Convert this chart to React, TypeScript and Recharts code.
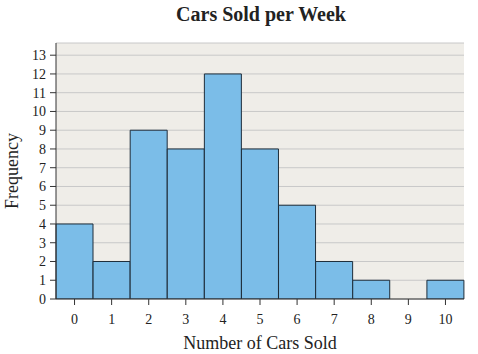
import React from 'react';
import { BarChart, Bar, XAxis, YAxis, CartesianGrid } from 'recharts';

// cars sold per week (x) and how many weeks had that count
const carsSold = ['0', '1', '2', '3', '4', '5', '6', '7', '8', '9', '10'];
const frequency = [4, 2, 9, 8, 12, 8, 5, 2, 1, 0, 1];
const yTicks = [0, 1, 2, 3, 4, 5, 6, 7, 8, 9, 10, 11, 12, 13];

const data = carsSold.map((c, i) => ({ cars: c, freq: frequency[i] }));

const serif = '"Liberation Serif", "DejaVu Serif", serif';

const XTick = (props: any) => {
  const { x, y, payload } = props;
  return (
    <text x={x} y={y + 17} textAnchor="middle" fontSize={14} fontFamily={serif} fill="#222">
      {payload.value}
    </text>
  );
};

const YTick = (props: any) => {
  const { x, y, payload } = props;
  return (
    <text x={x} y={y + 5} textAnchor="end" fontSize={14} fontFamily={serif} fill="#222">
      {payload.value}
    </text>
  );
};

const App: React.FC = () => {
  return (
    <div style={{ position: 'fixed', top: 0, left: 0, width: 478, height: 354, background: '#fff', fontFamily: serif }}>
      <div
        style={{
          position: 'absolute',
          top: 3,
          left: 0,
          width: 522,
          textAlign: 'center',
          fontSize: 20,
          fontWeight: 'bold',
          color: '#222',
        }}
      >
        Cars Sold per Week
      </div>
      <BarChart
        width={478}
        height={354}
        data={data}
        margin={{ top: 43, right: 14, left: 0, bottom: 0 }}
        barCategoryGap={0}
      >
        <CartesianGrid vertical={false} stroke="#c8c8c8" fill="#efede8" />
        <XAxis
          dataKey="cars"
          height={55}
          axisLine={{ stroke: '#333' }}
          tickLine={{ stroke: '#333' }}
          tickSize={6}
          tickMargin={2}
          tick={<XTick />}
          label={{ value: 'Number of Cars Sold', position: 'insideBottom', offset: 5, fontSize: 18, fill: '#222', fontFamily: serif }}
        />
        <YAxis
          width={56}
          domain={[0, 13.65]}
          ticks={yTicks}
          interval={0}
          allowDataOverflow
          axisLine={{ stroke: '#333' }}
          tickLine={{ stroke: '#333' }}
          tickSize={6}
          tickMargin={4}
          tick={<YTick />}
          label={{ value: 'Frequency', angle: -90, position: 'insideLeft', offset: 12, fontSize: 18, fill: '#222', fontFamily: serif, style: { textAnchor: 'middle' } }}
        />
        <Bar dataKey="freq" fill="#7bbde8" stroke="#1e2d3a" strokeWidth={1} isAnimationActive={false} />
      </BarChart>
    </div>
  );
};

export default App;
